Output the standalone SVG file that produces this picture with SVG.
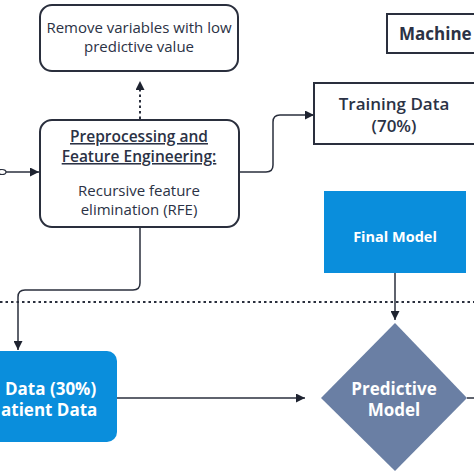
<svg xmlns="http://www.w3.org/2000/svg" width="474" height="474" viewBox="0 0 474 474">
<defs>
<marker id="ah" viewBox="0 0 10 10" refX="10" refY="5" markerWidth="9" markerHeight="9" markerUnits="userSpaceOnUse" orient="auto">
<path d="M0,0 L10,5 L0,10 z" fill="#1e2330"/>
</marker>
<style>
.box{fill:#fff;stroke:#2a2f3d;stroke-width:2}
.conn{fill:none;stroke:#2a2f3d;stroke-width:1.5}
.dot{fill:none;stroke:#2a2f3d;stroke-width:2;stroke-dasharray:2.5 3}
.t{font-family:"Open Sans","Liberation Sans",sans-serif;fill:#2b3245;text-anchor:middle}
.w{font-family:"Open Sans","Liberation Sans",sans-serif;fill:#fff;font-weight:bold;text-anchor:middle}
</style>
</defs>
<rect width="474" height="474" fill="#fff"/>
<g id="connectors">
<path class="dot" d="M0,302 H474"/>
<path class="dot" d="M140,119 V81" marker-end="url(#ah)"/>
<path class="conn" d="M5,172 H39" marker-end="url(#ah)"/>
<ellipse cx="2" cy="172" rx="4" ry="2.5" fill="#fff" stroke="#2a2f3d" stroke-width="1.2"/>
<path class="conn" d="M239,172 H266 Q273,172 273,165 V122 Q273,115 280,115 H314" marker-end="url(#ah)"/>
<path class="conn" d="M140,227 V283 Q140,290 133,290 H25 Q18,290 18,297 V350" marker-end="url(#ah)"/>
<path class="conn" d="M395,273 V320" marker-end="url(#ah)"/>
<path class="conn" d="M117,398 H305" marker-end="url(#ah)"/>
<path class="conn" d="M467,398 H474"/>
</g>
<g id="remove">
<rect class="box" x="40" y="5" width="198" height="66" rx="12"/>
<text class="t" x="139" y="33" font-size="15">Remove variables with low</text>
<text class="t" x="139" y="52" font-size="15">predictive value</text>
</g>
<g id="preprocessing">
<rect class="box" x="40" y="120" width="199" height="107" rx="12"/>
<text class="t" x="139" y="142" font-size="15.5" font-weight="600" text-decoration="underline">Preprocessing and</text>
<text class="t" x="139" y="162" font-size="15.5" font-weight="600" text-decoration="underline">Feature Engineering:</text>
<text class="t" x="139" y="196" font-size="15">Recursive feature</text>
<text class="t" x="139" y="215" font-size="15">elimination (RFE)</text>
</g>
<g id="machine">
<rect class="box" x="387" y="14" width="100" height="39"/>
<text class="t" x="399" y="40" font-size="17" font-weight="bold" style="text-anchor:start">Machine</text>
</g>
<g id="training">
<rect class="box" x="314" y="83" width="170" height="61"/>
<text class="t" x="394" y="110" font-size="17" font-weight="600">Training Data</text>
<text class="t" x="394" y="132" font-size="17" font-weight="600">(70%)</text>
</g>
<g id="final">
<rect x="324" y="191" width="142" height="82" fill="#0a8edc"/>
<text class="w" x="395" y="242" font-size="14.5" font-weight="600">Final Model</text>
</g>
<g id="testing">
<rect x="-20" y="351" width="137" height="91" rx="10" fill="#0a8edc"/>
<text class="w" x="5" y="395" font-size="17" style="text-anchor:start">Data (30%)</text>
<text class="w" x="1" y="416" font-size="17" style="text-anchor:start">atient Data</text>
</g>
<g id="predictive">
<path d="M395,323 L467,398 L395,471 L321,398 z" fill="#6a7fa4"/>
<text class="w" x="394" y="395" font-size="17">Predictive</text>
<text class="w" x="394" y="416" font-size="17">Model</text>
</g>
</svg>
